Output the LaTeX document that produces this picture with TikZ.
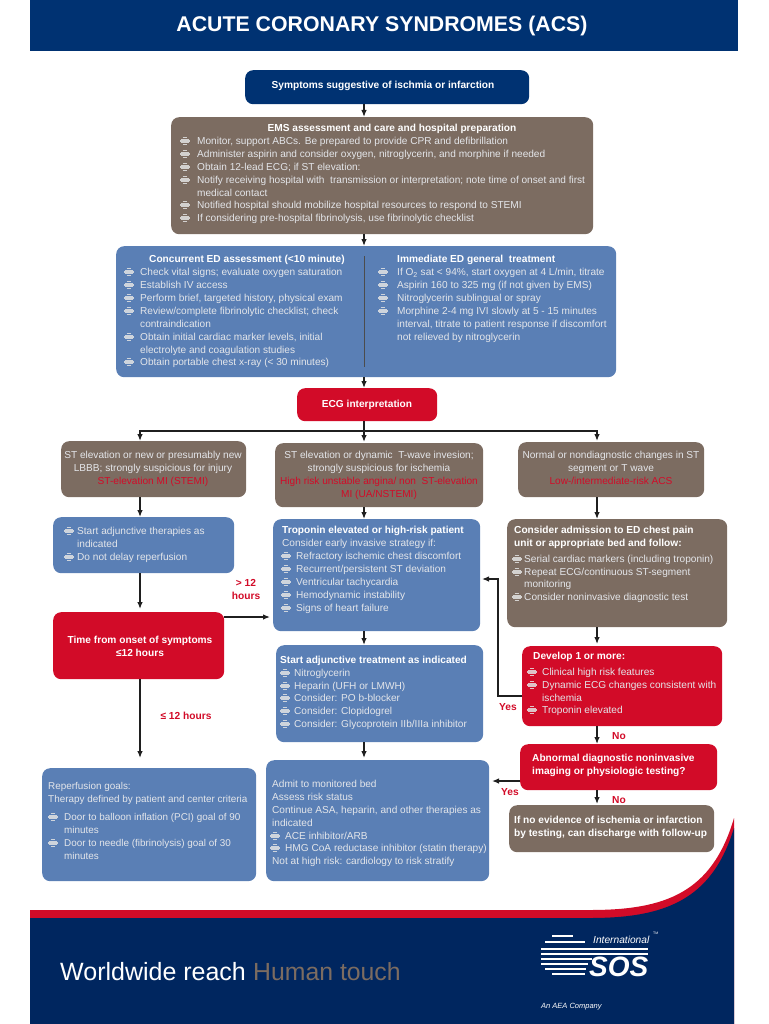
\documentclass[tikz,border=0pt]{standalone}
\usepackage{fontspec}
\usepackage{xcolor}
\usetikzlibrary{arrows.meta}
\setmainfont{Liberation Sans}
\definecolor{headblue}{HTML}{003272}
\definecolor{footblue}{HTML}{00265F}
\definecolor{boxblue}{HTML}{5A7FB5}
\definecolor{boxbrown}{HTML}{7C6C61}
\definecolor{boxred}{HTML}{D20B28}
\definecolor{paletxt}{HTML}{E4E6EA}
\tikzset{
  stripebullet/.pic={
    \foreach \d/\w in {-3.3/2.4,-1.65/4,0/4.8,1.65/4,3.3/2.4}
      \draw[white!78!gray,line width=1.1pt,opacity=.85] (-\w,\d) -- (\w,\d);
  }
}
\begin{document}
\begin{tikzpicture}[x=1pt,y=-1pt,>={Latex[length=7pt,width=5.5pt]}]
  \tikzstyle{every box}=[rectangle,rounded corners=8pt,inner sep=0pt,anchor=north west]
  \tikzstyle{line txt}=[anchor=west,inner sep=0pt,text=paletxt,text height=7.4pt,text depth=2.2pt,yshift=-1pt,font=\fontsize{10.1}{13}\selectfont]
  \tikzstyle{small txt}=[line txt,font=\fontsize{9.9}{13}\selectfont]
  \tikzstyle{head txt}=[line txt,text=white,font=\fontsize{10.15}{13}\selectfont\bfseries]
  \tikzstyle{mid txt}=[inner sep=0pt,align=center,text=paletxt,yshift=-1.3pt,font=\fontsize{10.1}{13}\selectfont]
  \tikzstyle{bold txt}=[mid txt,text=white,font=\fontsize{10.15}{13}\selectfont\bfseries]
  \tikzstyle{red txt}=[inner sep=0pt,align=center,text=boxred,yshift=-1pt,font=\fontsize{10.2}{13}\selectfont\bfseries]
  \tikzstyle{flow}=[draw=black!88,line width=1.25pt,->]

  \useasboundingbox (0,0) rectangle (768,1024);

  % Header band
  \fill[headblue] (30,0) rectangle (738,51);
  \node[inner sep=0pt,text=white,font=\fontsize{21.3}{24}\selectfont\bfseries] (title) at (382,26) {ACUTE CORONARY SYNDROMES (ACS)};

  % Footer with curve
  \fill[boxred] (30,910) -- (590,910) .. controls (665,910) and (712,893) .. (734,818) -- (734,1024) -- (30,1024) -- cycle;
  \fill[footblue] (30,918) -- (590,918) .. controls (665,918) and (712,900) .. (734,828) -- (734,1024) -- (30,1024) -- cycle;
  \node[anchor=west,inner sep=0pt,text=white,font=\fontsize{25}{28}\selectfont] (reach) at (60,972) {Worldwide reach};
  \node[anchor=west,inner sep=0pt,text=boxbrown,font=\fontsize{24.8}{28}\selectfont] (touch) at (253,972) {Human touch};

  % Logo
  \foreach \a/\b/\y/\t in {552/573/936/1.2,545/585/942/1.3,541/648/949/1.8,541/648/954/1.8,541/592/959/1.8,541/588/964/1.6,545/586/969/1.4,552/585/974/1.2}
    \draw[white,line width=\t pt] (\a,\y) -- (\b,\y);
  \node[anchor=west,inner sep=0pt,text=white,font=\fontsize{10.2}{12}\selectfont\itshape] (intl) at (593,940) {International};
  \node[anchor=west,inner sep=0pt,text=white,font=\fontsize{28}{30}\selectfont\bfseries\itshape] (sos) at (589,967) {SOS};
  \node[anchor=west,inner sep=0pt,text=white,font=\fontsize{3.5}{4}\selectfont] (tm) at (653,933) {TM};
  \node[anchor=west,inner sep=0pt,text=white,font=\fontsize{7.5}{9}\selectfont\itshape] (aea) at (541,1007) {An AEA Company};

  % Boxes
  \foreach \n/\xa/\ya/\xb/\yb/\c in {sym/245/70/529/104/headblue,ems/171/117/593/234/boxbrown,ed/116/246/616/377/boxblue,ecg/297/388/437/421/boxred,
      stemi/61/441/246/497/boxbrown,nstemi/275/443/483/507/boxbrown,low/518/442/704/497/boxbrown,
      start/53/517/234/573/boxblue,time/53/612/224/679/boxred,goals/42/768/256/881/boxblue,
      trop/273/519/480/631/boxblue,adj/276/645/483/742/boxblue,admit/266/760/489/881/boxblue,
      cons/507/519/727/627/boxbrown,dev/522/646/722/726/boxred,abn/520/744/717/790/boxred,disch/509/805/714/852/boxbrown}
    \node[every box,fill=\c,minimum width=\xb pt-\xa pt,minimum height=\yb pt-\ya pt] (\n) at (\xa,\ya) {};

  % EMS box
  \node[bold txt] (sym-t) at (383,85) {Symptoms suggestive of ischmia or infarction};
  \node[bold txt] (ems-t) at (392,128) {EMS assessment and care and hospital preparation};
  \foreach \i/\y/\t in {1/141/{Monitor, support ABCs. Be prepared to provide CPR and defibrillation},
      2/154/{Administer aspirin and consider oxygen, nitroglycerin, and morphine if needed},
      3/167/{Obtain 12-lead ECG; if ST elevation:},
      4/180/{Notify receiving hospital with\ \ transmission or interpretation; note time of onset and first},
      6/205/{Notified hospital should mobilize hospital resources to respond to STEMI},
      7/218/{If considering pre-hospital fibrinolysis, use fibrinolytic checklist}}{
    \node[line txt] (ems-\i) at (197,\y) {\t};
    \pic at (185,\y) {stripebullet};
  }
  \node[line txt] (ems-5) at (197,193) {medical contact};

  % ED box
  \draw[black!70,line width=1pt] (364,256) -- (364,367);
  \node[head txt] (ed-t1) at (149,259) {Concurrent ED assessment (<10 minute)};
  \node[head txt] (ed-t2) at (397,259) {Immediate ED general\ \ treatment};
  \foreach \i/\y/\t in {1/272/{Check vital signs; evaluate oxygen saturation},
      2/285/{Establish IV access},
      3/298/{Perform brief, targeted history, physical exam},
      4/311/{Review/complete fibrinolytic checklist; check},
      5/337/{Obtain initial cardiac marker levels, initial},
      6/362/{Obtain portable chest x-ray (< 30 minutes)}}{
    \node[line txt] (edl-\i) at (140,\y) {\t};
    \pic at (129,\y) {stripebullet};
  }
  \node[line txt] (edl-7) at (140,324) {contraindication};
  \node[line txt] (edl-8) at (140,350) {electrolyte and coagulation studies};
  \foreach \i/\y/\t in {1/272/{If O\textsubscript{2} sat < 94\%, start oxygen at 4 L/min, titrate},
      2/285/{Aspirin 160 to 325 mg (if not given by EMS)},
      3/298/{Nitroglycerin sublingual or spray},
      4/311/{Morphine 2-4 mg IVI slowly at 5 - 15 minutes}}{
    \node[line txt] (edr-\i) at (397,\y) {\t};
    \pic at (383,\y) {stripebullet};
  }
  \node[line txt] (edr-5) at (397,324) {interval, titrate to patient response if discomfort};
  \node[line txt] (edr-6) at (397,337) {not relieved by nitroglycerin};

  % ECG row
  \node[bold txt] (ecg-t) at (367,404) {ECG interpretation};
  \node[mid txt,anchor=north] (stemi-t) at (153,449.5) {ST elevation or new or presumably new\\LBBB; strongly suspicious for injury};
  \node[mid txt,text=boxred,anchor=north] (stemi-r) at (153,475.5) {ST-elevation MI (STEMI)};
  \node[mid txt,anchor=north] (nstemi-t) at (379,449.5) {ST elevation or dynamic\ \ T-wave invesion;\\strongly suspicious for ischemia};
  \node[mid txt,text=boxred,anchor=north] (nstemi-r) at (379,475.5) {High risk unstable angina/ non\ \ ST-elevation\\MI (UA/NSTEMI)};
  \node[mid txt,anchor=north] (low-t) at (611,449.5) {Normal or nondiagnostic changes in ST\\segment or T wave};
  \node[mid txt,text=boxred,anchor=north] (low-r) at (611,475.5) {Low-/intermediate-risk ACS};

  % Left column
  \foreach \i/\y/\t in {1/531/{Start adjunctive therapies as},2/557/{Do not delay reperfusion}}{
    \node[line txt] (start-\i) at (77,\y) {\t};
    \pic at (69,\y) {stripebullet};
  }
  \node[line txt] (start-3) at (77,544) {indicated};
  \node[bold txt] (time-t) at (140,645.5) {Time from onset of symptoms\\≤12 hours};
  \node[red txt] (gt) at (246,588) {> 12\\hours};
  \node[red txt] (le) at (186,715) {≤ 12 hours};
  \node[small txt] (goals-1) at (48,786) {Reperfusion goals:};
  \node[small txt] (goals-2) at (48,799) {Therapy defined by patient and center criteria};
  \foreach \i/\y/\t in {3/817/{Door to balloon inflation (PCI) goal of 90},5/843/{Door to needle (fibrinolysis) goal of 30}}{
    \node[small txt] (goals-\i) at (64,\y) {\t};
    \pic at (53,\y) {stripebullet};
  }
  \node[small txt] (goals-4) at (64,830) {minutes};
  \node[small txt] (goals-6) at (64,856) {minutes};

  % Middle column
  \node[head txt] (trop-t) at (282,530) {Troponin elevated or high-risk patient};
  \node[line txt] (trop-s) at (282,543) {Consider early invasive strategy if:};
  \foreach \i/\y/\t in {1/556/{Refractory ischemic chest discomfort},2/569/{Recurrent/persistent ST deviation},
      3/582/{Ventricular tachycardia},4/595/{Hemodynamic instability},5/608/{Signs of heart failure}}{
    \node[line txt] (trop-\i) at (296,\y) {\t};
    \pic at (286,\y) {stripebullet};
  }
  \node[head txt] (adj-t) at (280,660) {Start adjunctive treatment as indicated};
  \foreach \i/\y/\t in {1/673/{Nitroglycerin},2/686/{Heparin (UFH or LMWH)},3/698/{Consider: PO b-blocker},
      4/711/{Consider: Clopidogrel},5/724/{Consider: Glycoprotein IIb/IIIa inhibitor}}{
    \node[line txt] (adj-\i) at (294,\y) {\t};
    \pic at (285,\y) {stripebullet};
  }
  \foreach \i/\y/\t in {1/784/{Admit to monitored bed},2/797/{Assess risk status},3/810/{Continue ASA, heparin, and other therapies as},
      4/823/{indicated},7/861/{Not at high risk: cardiology to risk stratify}}
    \node[line txt] (admit-\i) at (272,\y) {\t};
  \foreach \i/\y/\t in {5/836/{ACE inhibitor/ARB},6/848/{HMG CoA reductase inhibitor (statin therapy)}}{
    \node[line txt] (admit-\i) at (285,\y) {\t};
    \pic at (275,\y) {stripebullet};
  }

  % Right column
  \node[head txt] (cons-t1) at (514,530) {Consider admission to ED chest pain};
  \node[head txt] (cons-t2) at (514,543) {unit or appropriate bed and follow:};
  \foreach \i/\y/\t in {1/559/{Serial cardiac markers (including troponin)},2/572/{Repeat ECG/continuous ST-segment},4/597/{Consider noninvasive diagnostic test}}{
    \node[line txt] (cons-\i) at (524,\y) {\t};
    \pic at (517,\y) {stripebullet};
  }
  \node[line txt] (cons-3) at (524,584) {monitoring};
  \node[head txt] (dev-t) at (533,656) {Develop 1 or more:};
  \foreach \i/\y/\t in {1/672/{Clinical high risk features},2/685/{Dynamic ECG changes consistent with},4/710/{Troponin elevated}}{
    \node[line txt] (dev-\i) at (542,\y) {\t};
    \pic at (532,\y) {stripebullet};
  }
  \node[line txt] (dev-3) at (542,698) {ischemia};
  \node[head txt] (abn-1) at (532,758) {Abnormal diagnostic noninvasive};
  \node[head txt] (abn-2) at (532,771) {imaging or physiologic testing?};
  \node[head txt] (disch-1) at (514,820) {If no evidence of ischemia or infarction};
  \node[head txt] (disch-2) at (514,833) {by testing, can discharge with follow-up};
  \node[red txt] (no-1) at (619,735) {No};
  \node[red txt] (no-2) at (619,799) {No};
  \node[red txt] (yes-1) at (508,706) {Yes};
  \node[red txt] (yes-2) at (510,791) {Yes};

  % Connections
  \coordinate (split) at (364,431);
  \draw[flow] (364,104) -- (364,117);
  \draw[flow] (364,234) -- (364,246);
  \draw[flow] (364,377) -- (364,388);
  \draw[flow] (364,421) -- (364,442);
  \draw[flow] (split) -| (140,441);
  \draw[flow] (split) -| (597,441);
  \draw[flow] (140,497) -- (140,517);
  \draw[flow] (364,507) -- (364,519);
  \draw[flow] (597,497) -- (597,519);
  \draw[flow] (140,573) -- (140,609);
  \draw[flow] (224,617) -- (270,617);
  \draw[flow] (140,679) -- (140,758);
  \draw[flow] (364,631) -- (364,645);
  \draw[flow] (364,742) -- (364,758);
  \draw[flow] (597,627) -- (597,644);
  \draw[flow] (597,726) -- (597,744);
  \draw[flow] (597,790) -- (597,804);
  \draw[flow] (522,696) -- (498,696) -- (498,579) -- (482,579);
  \draw[flow] (520,781) -- (492,781);
\end{tikzpicture}
\end{document}
